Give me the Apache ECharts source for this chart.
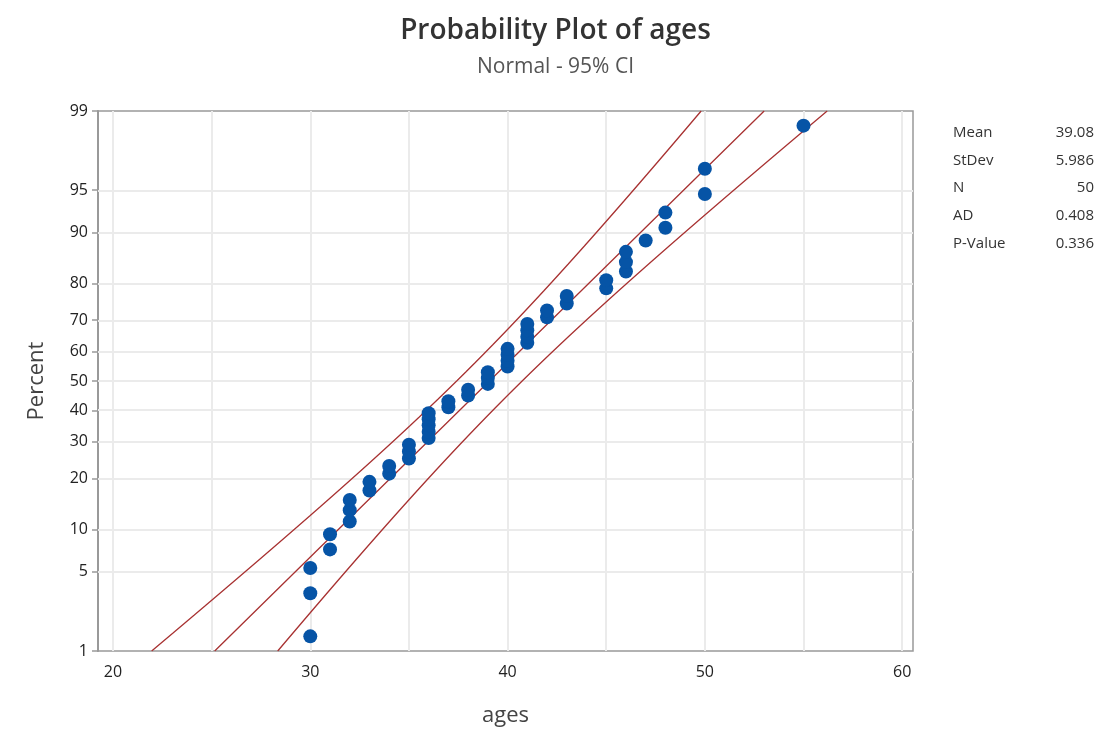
<!DOCTYPE html>
<html>
<head>
<meta charset="utf-8">
<script src="https://cdn.jsdelivr.net/npm/echarts@6/dist/echarts.min.js"></script>
<style>html,body{margin:0;padding:0;background:#fff}#c{width:1111px;height:743px}</style>
</head>
<body>
<div id="c"></div>
<script>
// ---- data ----
const ages = [30,30,30,31,31,32,32,32,33,33,34,34,35,35,35,36,36,36,36,36,37,37,38,38,39,39,39,40,40,40,40,41,41,41,41,42,42,43,43,45,45,46,46,46,47,48,48,50,50,55];
const percents = [1.39,3.37,5.36,7.34,9.33,11.31,13.29,15.28,17.26,19.25,21.23,23.21,25.20,27.18,29.17,31.15,33.13,35.12,37.10,39.09,41.07,43.06,45.04,47.02,49.01,50.99,52.98,54.96,56.94,58.93,60.91,62.90,64.88,66.87,68.85,70.83,72.82,74.80,76.79,78.77,80.75,82.74,84.72,86.71,88.69,90.67,92.66,94.64,96.63,98.61];
const yTickPercents = [1,5,10,20,30,40,50,60,70,80,90,95,99];
const yGridPercents = [5,10,20,30,40,50,60,70,80,90,95];
const xTickLabels = [20,30,40,50,60];
const xGridValues = [20,25,30,35,40,45,50,55,60];
const statNames = ['Mean','StDev','N','AD','P-Value'];
const statValues = ['39.08','5.986','50','0.408','0.336'];
const fitMean = 39.08, fitSd = 5.986, fitN = 50, ciZ = 1.96;

// inverse standard normal CDF (Acklam)
function qnorm(p){
  const a=[-3.969683028665376e+01,2.209460984245205e+02,-2.759285104469687e+02,1.383577518672690e+02,-3.066479806614716e+01,2.506628277459239e+00];
  const b=[-5.447609879822406e+01,1.615858368580409e+02,-1.556989798598866e+02,6.680131188771972e+01,-1.328068155288572e+01];
  const c=[-7.784894002430293e-03,-3.223964580411365e-01,-2.400758277161838e+00,-2.549671010229143e+00,4.374664141464968e+00,2.938163982698783e+00];
  const d=[7.784695709041462e-03,3.224671290700398e-01,2.445134137142996e+00,3.754408661907416e+00];
  const pl=0.02425;
  let q,r;
  if(p<pl){q=Math.sqrt(-2*Math.log(p));return (((((c[0]*q+c[1])*q+c[2])*q+c[3])*q+c[4])*q+c[5])/((((d[0]*q+d[1])*q+d[2])*q+d[3])*q+1);}
  if(p>1-pl){q=Math.sqrt(-2*Math.log(1-p));return -(((((c[0]*q+c[1])*q+c[2])*q+c[3])*q+c[4])*q+c[5])/((((d[0]*q+d[1])*q+d[2])*q+d[3])*q+1);}
  q=p-0.5;r=q*q;
  return (((((a[0]*r+a[1])*r+a[2])*r+a[3])*r+a[4])*r+a[5])*q/(((((b[0]*r+b[1])*r+b[2])*r+b[3])*r+b[4])*r+1);
}
const zOf = pc => qnorm(pc/100);
const zMin = zOf(1), zMax = zOf(99);

const points = ages.map((a,i)=>[a, zOf(percents[i])]);
const fitLine=[], ciLow=[], ciHigh=[];
for(let k=0;k<=60;k++){
  const z = zMin + (zMax-zMin)*k/60;
  const x = fitMean + fitSd*z;
  const se = fitSd*Math.sqrt(1/fitN + z*z/(2*fitN));
  fitLine.push([x,z]); ciLow.push([x-ciZ*se,z]); ciHigh.push([x+ciZ*se,z]);
}

const FONT = '"Open Sans", "Noto Sans", sans-serif';
const gridCol = '#ebebeb';
const lineCol = '#a83232';

const chart = echarts.init(document.getElementById('c'), null, {renderer:'canvas'});
const option = {
  animation:false,
  backgroundColor:'#fff',
  title:[
    {text:'Probability Plot of ages', left:'center', top:12, textStyle:{fontFamily:FONT,fontSize:28,fontWeight:600,color:'#333'}},
    {text:'Normal - 95% CI', left:'center', top:52, textStyle:{fontFamily:FONT,fontSize:21,fontWeight:'normal',color:'#555'}}
  ],
  grid:{left:98,right:198,top:111,bottom:92,show:true,borderColor:'#999',borderWidth:1.5,backgroundColor:'#fff'},
  xAxis:{
    type:'value', min:19.24, max:60.55,
    name:'ages', nameLocation:'middle', nameGap:54,
    nameTextStyle:{fontFamily:FONT,fontSize:22,color:'#444'},
    axisLine:{show:true,lineStyle:{color:'#999',width:2}},
    axisTick:{show:true,length:6,customValues:xTickLabels,lineStyle:{color:'#999',width:1.5}},
    axisLabel:{customValues:xTickLabels,fontFamily:FONT,fontSize:16,color:'#222',margin:13},
    splitLine:{show:false}
  },
  yAxis:{
    type:'value', min:zMin, max:zMax,
    name:'Percent', nameLocation:'middle', nameGap:50,
    nameTextStyle:{fontFamily:FONT,fontSize:22,color:'#444'},
    axisLine:{show:true,lineStyle:{color:'#999',width:2}},
    axisTick:{show:true,length:6,customValues:yTickPercents.map(zOf),lineStyle:{color:'#999',width:1.5}},
    axisLabel:{customValues:yTickPercents.map(zOf),fontFamily:FONT,fontSize:16,color:'#222',margin:10,
      formatter:function(v){let best=yTickPercents[0],bd=1e9;yTickPercents.forEach(p=>{const d=Math.abs(zOf(p)-v);if(d<bd){bd=d;best=p;}});return String(best);}},
    splitLine:{show:false}
  },
  series:[
    {type:'line', data:[], z:1, silent:true,
      markLine:{silent:true,symbol:'none',z:1,zlevel:0,label:{show:false},animation:false,
        lineStyle:{color:gridCol,width:2,type:'solid'},
        data:xGridValues.map(v=>({xAxis:v})).concat(yGridPercents.map(p=>({yAxis:zOf(p)})))}
    },
    {type:'line', data:ciHigh, showSymbol:false, z:6, lineStyle:{color:lineCol,width:1.3}, silent:true},
    {type:'line', data:fitLine, showSymbol:false, z:6, lineStyle:{color:lineCol,width:1.3}, silent:true},
    {type:'line', data:ciLow, showSymbol:false, z:6, lineStyle:{color:lineCol,width:1.3}, silent:true},
    {type:'scatter', data:points, z:8, symbol:'circle', symbolSize:14, itemStyle:{color:'#0654a6',opacity:1}}
  ],
  graphic: statNames.map((s,i)=>({type:'text', left:953, top:125+i*27.8, style:{text:s,font:'15px '+FONT,fill:'#333'}}))
    .concat(statValues.map((s,i)=>({type:'text', right:17, top:125+i*27.8, style:{text:s,font:'15px '+FONT,fill:'#333',textAlign:'right'}})))
};
chart.setOption(option);
</script>
</body>
</html>
